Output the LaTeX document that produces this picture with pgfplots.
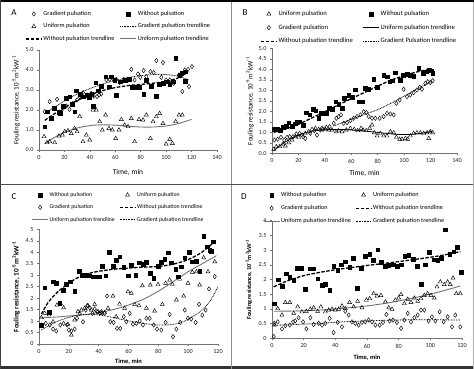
\documentclass[border=0pt]{standalone}
\usepackage{fontspec}
\setmainfont{Carlito}
\usepackage{pgfplots}
\pgfplotsset{compat=1.18}
\pgfplotsset{
  mlegend/.style={legend image code/.code={\draw[mark repeat=2,mark phase=2,##1] plot coordinates {(0pt,0pt) (8pt,0pt) (16pt,0pt)};}},
  llegend/.style={legend image code/.code={\draw[##1] (0pt,0pt) -- (16pt,0pt);}},
  sq/.style={only marks, mark=square*, mark size=1.8pt, black, mlegend},
  dm/.style={only marks, mark=diamond, mark size=2.2pt, mark options={line width=0.45pt}, black, mlegend},
  tr/.style={only marks, mark=triangle, mark size=2.3pt, mark options={line width=0.45pt}, black, mlegend},
  wtr/.style={black, line width=1.3pt, dash pattern=on 3.5pt off 1.5pt, smooth, no markers, llegend},
  utr/.style={black!55, line width=0.9pt, smooth, no markers, llegend},
  utrb/.style={black, line width=0.8pt, smooth, no markers, llegend},
  gtr/.style={black, line width=0.8pt, dash pattern=on 0.8pt off 0.8pt, smooth, no markers, llegend},
  panel/.style={
    scale only axis,
    axis x line*=bottom, axis y line*=left,
    axis line style={draw=black!55, line width=0.6pt, -},
    tick style={draw=black!55, line width=0.5pt},
    tick align=outside, major tick length=2pt,
    ticklabel style={font=\fontsize{6.2}{7}\selectfont, text=black!85},
    /pgf/number format/assume math mode=true,
    legend columns=2, legend cell align=left,
    legend style={draw=none, fill=none, inner sep=0pt,
      nodes={inner xsep=1pt, inner ysep=0pt, text height=4.2pt, text depth=1.3pt},
      anchor=north west},
  },
}
\newcommand{\ylab}{Fouling resistance, 10\textsuperscript{-5}m\textsuperscript{2}kW\textsuperscript{-1}}
\begin{document}
\begin{tikzpicture}
\useasboundingbox (0pt,0pt) rectangle (474pt,369pt);
\fill[white] (0pt,0pt) rectangle (474pt,369pt);

% ---------------- Panel A ----------------
\begin{axis}[panel, at={(39pt,219pt)}, anchor=south west, width=178pt, height=100pt,
  xmin=0, xmax=140, ymin=0, ymax=5, xtick={0,20,...,140}, ytick={0,1,...,5},
  yticklabel style={/pgf/number format/.cd, fixed, fixed zerofill, precision=1},
  xlabel={Time, min}, ylabel={\ylab},
  xlabel style={at={(axis description cs:0.5,-0.22)}, anchor=center, font=\fontsize{7.5}{8}\selectfont},
  ylabel style={at={(axis description cs:-0.129,0.5)}, anchor=center, font=\fontsize{7}{8}\selectfont},
  legend style={at={(axis description cs:0,1)}, xshift=-14pt, yshift=39pt,
    font=\fontsize{6.3}{7}\selectfont, row sep=7pt,
    /tikz/every even column/.append style={column sep=4.5pt}}]
\addplot[dm] coordinates {(4.5,1.92)(8.4,2.42)(14.2,2.53)(18.9,2.08)(21.5,2.2)(24,2.03)(26.7,2.33)(29.9,2.5)(32,2.67)(34.6,2.87)(37.8,2.75)(41,2.83)(43,2.7)(45.6,2.67)(47.2,2.75)(49,2.8)(53,3.5)(55.6,3.53)(58,3.58)(60.8,3.53)(63.5,3.37)(66.6,3.53)(70,3.5)(72.6,4.03)(75.2,3.5)(77.9,3.8)(79.7,3.63)(82.3,3.97)(84.4,3.67)(87.6,3.92)(90.2,3.87)(92.3,4.47)(96.2,3.63)(97.5,4.37)(100,3.5)(102.8,3.5)(105.9,3.33)(110,3.75)(112.7,2.92)(114.6,4)(117.2,4.03)(118,3.17)(120.3,4.17)};
\addlegendentry{Gradient pulsation}
\addplot[sq] coordinates {(4.5,1.17)(6.6,1.92)(9.7,1.58)(12,2.08)(15.7,1.9)(16.8,1.83)(18.9,2.2)(21.5,2.58)(24,2.67)(26,2.3)(28,1.92)(29.4,2.97)(32.5,2.8)(34.6,2.67)(37.8,2.75)(39.3,2.63)(41.4,2.8)(42.5,2.2)(44.6,3.37)(46.7,2.97)(49,3.2)(52.4,3.67)(55,3.17)(56.9,3.67)(59.5,3.5)(60.8,2.75)(64,3.42)(68,3.5)(70.8,3.53)(73.4,3.13)(76.5,3.13)(79.2,3.13)(82.3,2.8)(84.4,3.5)(88.4,3.2)(92.3,2.7)(94.4,3.3)(97.5,3.33)(100,3.42)(102.8,3.3)(105.4,3.42)(107.5,4.58)(110.6,3.75)(112.7,3.87)(115.4,3.92)(115,3.45)};
\addlegendentry{Without pulsation}
\addplot[tr] coordinates {(4,0.67)(6.3,0.37)(8.4,0.42)(12.3,0.37)(15.7,0.7)(18.4,0.75)(20.2,0.92)(22.8,0.97)(25.4,0.83)(28,1.08)(29.9,0.92)(32,1.67)(34.6,0.42)(37.2,0.75)(39.9,0.5)(42.5,2)(45.1,2)(47.7,1.42)(49.8,1)(52.4,1.75)(55,1.08)(57.7,1)(60.3,0.58)(62.9,1)(64.8,1.53)(67.4,1.25)(70,1.17)(72.6,1.58)(75.2,0.42)(78.7,1.53)(81.8,1.5)(84.4,1.75)(87.6,0.58)(89.7,1.42)(92.3,1.67)(94.9,1.83)(97.5,1.33)(100,0.3)(102.8,0.53)(104.9,0.33)(107.5,1.42)(110.1,1.75)(112.7,1.75)};
\addlegendentry{Uniform pulsation}
\addplot[gtr] coordinates {(4.5,1.82)(10,2.05)(20,2.45)(30,2.8)(40,3.07)(50,3.3)(60,3.48)(70,3.62)(80,3.72)(90,3.77)(100,3.77)(110,3.68)(118,3.5)};
\addlegendentry{Gradient pulsation trendline}
\addplot[wtr] coordinates {(4.5,1.48)(10,1.72)(20,2.12)(30,2.47)(40,2.75)(50,2.97)(60,3.12)(70,3.22)(80,3.28)(90,3.34)(100,3.43)(110,3.62)(118,3.92)};
\addlegendentry{Without pulsation trendline}
\addplot[utr] coordinates {(4.5,0.32)(10,0.55)(20,0.88)(30,1.1)(40,1.22)(50,1.26)(60,1.24)(70,1.19)(80,1.15)(90,1.15)(100,1.2)(110,1.33)(120,1.53)};
\addlegendentry{Uniform pulsation trendline}
\end{axis}

% ---------------- Panel B ----------------
\begin{axis}[panel, at={(272pt,215.7pt)}, anchor=south west, width=185pt, height=105pt,
  xmin=0, xmax=140, ymin=0, ymax=5, xtick={0,20,...,140}, ytick={0,0.5,...,5},
  yticklabel style={/pgf/number format/.cd, fixed, fixed zerofill, precision=1},
  xlabel={Time, min}, ylabel={\ylab},
  xlabel style={at={(axis description cs:0.5,-0.19)}, anchor=center, font=\fontsize{7.5}{8}\selectfont},
  ylabel style={at={(axis description cs:-0.119,0.5)}, anchor=center, font=\fontsize{7}{8}\selectfont},
  legend style={at={(axis description cs:0,1)}, xshift=-12pt, yshift=37.3pt,
    font=\fontsize{6.6}{7}\selectfont, row sep=8.2pt,
    /tikz/every even column/.append style={column sep=9pt}}]
\addplot[tr] coordinates {(1.3,0.19)(3.3,0.32)(5.8,0.32)(8.3,0.44)(10.1,0.35)(12.6,0.5)(15.1,0.63)(17.7,0.79)(20.2,0.76)(22.7,0.87)(25.2,0.95)(27.7,1.03)(30.3,1.14)(32.8,1.19)(35.3,1.14)(37.8,1.19)(40.4,1.14)(42.9,1.11)(45.4,1.11)(48.7,1.03)(50.5,1.08)(53,1.03)(56.3,1.11)(59.3,1.19)(62.3,1.14)(64.8,1.08)(67.4,1.19)(68.9,1.11)(71.4,1.08)(73.9,1.19)(75.7,1.35)(77.4,0.98)(79.5,0.83)(82,0.95)(84.5,0.83)(87,0.83)(89.6,1.03)(92.1,0.98)(94.1,0.76)(96.6,0.67)(98.4,0.67)(100.9,0.71)(102.7,0.67)(104.7,0.83)(107.2,0.95)(109.7,0.98)(112.3,0.98)(114.8,0.95)(117.3,0.98)(118.6,0.71)(119.8,1.03)(121.6,0.98)};
\addlegendentry{Uniform pulsation}
\addplot[sq] coordinates {(1.8,1.14)(3.8,1.14)(6.3,1.11)(8.3,1.24)(10.8,1.3)(12.6,1.46)(15.1,1.3)(17.7,1.4)(18.9,1.5)(20.9,1.5)(23.5,1.35)(26,1.94)(28.5,1.83)(31,2.1)(33,2.03)(35.3,1.67)(37.1,1.9)(39.1,1.94)(41.1,1.9)(43.1,2.14)(45.4,2.1)(48.2,2.46)(50.5,2.35)(53,2.14)(54.7,2.62)(58,2.78)(60.5,2.67)(63.1,3.02)(65.6,2.46)(68.1,2.46)(70.6,3.1)(73.2,3.05)(76.9,3.54)(79.5,3.14)(84.5,3.73)(87,3.65)(89,3.41)(90.8,3.46)(93.3,3.84)(97.1,3.49)(99.1,3.73)(102.2,3.78)(104.7,3.73)(107.2,3.68)(111,4.05)(114.3,3.81)(116.8,3.89)(118.6,3.97)(120.3,3.94)(121.6,3.81)};
\addlegendentry{Without pulsation}
\addplot[dm] coordinates {(1.8,0.63)(4.3,0.67)(6.8,0.76)(9.3,0.63)(11.4,0.76)(13.4,0.79)(15.9,0.79)(18.4,0.92)(20.9,0.95)(23.5,0.79)(25.2,0.71)(29,0.95)(32,1.08)(34,0.87)(36.6,1.11)(38.6,1.14)(41.1,1.24)(43.6,1.27)(46.7,1.43)(48.7,1.67)(50.5,1.75)(52.2,1.83)(54.2,1.43)(56.8,1.46)(59.3,1.56)(61.8,1.67)(64.3,1.75)(66.9,1.83)(69.4,1.98)(71.4,1.94)(73.2,1.75)(75.7,1.67)(78.2,1.67)(81.5,1.67)(84.5,1.75)(87,1.9)(89.6,1.87)(92.1,1.83)(94.1,2.38)(96.6,2.54)(99.6,3.05)(102.2,2.7)(104.7,2.78)(107.2,2.89)(109.7,3.02)(111.8,3.14)(113.5,3.05)(116,3.33)(117.8,3.41)(119.8,3.37)(121.6,3.46)};
\addlegendentry{Gradient pulsation}
\addplot[utrb] coordinates {(1.3,0.13)(8,0.45)(16,0.76)(24,0.95)(32,1.07)(44,1.13)(55,1.13)(65,1.09)(75,1.03)(85,0.96)(95,0.9)(105,0.9)(115,0.97)(121,1.05)};
\addlegendentry{Uniform pulsation trendline}
\addplot[wtr] coordinates {(1.3,1.0)(10,1.15)(20,1.38)(30,1.68)(40,1.98)(50,2.3)(60,2.6)(70,2.9)(80,3.2)(90,3.48)(100,3.7)(110,3.88)(121,4.02)};
\addlegendentry{Without pulsation trendline}
\addplot[gtr] coordinates {(46.7,1.3)(55,1.5)(62,1.67)(70,1.85)(80,2.08)(90,2.38)(100,2.72)(110,3.07)(121,3.42)};
\addlegendentry{Gradient Pulsation trendline}
\end{axis}

% ---------------- Panel C ----------------
\begin{axis}[panel, at={(39pt,25pt)}, anchor=south west, width=179pt, height=114.7pt,
  xmin=0, xmax=120, ymin=0, ymax=5, xtick={0,20,...,120}, ytick={0,0.5,...,5},
  xlabel={\textbf{Time, min}}, ylabel={\textbf{\ylab}},
  xlabel style={at={(axis description cs:0.5,-0.157)}, anchor=center, font=\fontsize{6.5}{7}\selectfont},
  ylabel style={at={(axis description cs:-0.128,0.5)}, anchor=center, font=\fontsize{7.1}{8}\selectfont},
  legend style={at={(axis description cs:0,1)}, xshift=-7.5pt, yshift=37.3pt,
    font=\fontsize{5.8}{7}\selectfont, row sep=6.9pt,
    /tikz/every even column/.append style={column sep=3pt}}]
\addplot[sq] coordinates {(1.6,0.83)(3.8,2.46)(6.7,1.38)(9.4,2.72)(11.6,2.65)(13.9,1.77)(16.1,2.35)(18.3,2.6)(21,2.72)(23.9,2.31)(26.8,3.18)(29,3.01)(31.7,3.01)(34,2.98)(36.2,2.94)(38.4,2.94)(40.2,2.94)(42.5,3.4)(44.7,2.97)(46.9,4)(49.6,3.4)(51.8,3.66)(54,3.81)(56.8,3.34)(59.7,2.97)(61.9,3.44)(64.8,3.01)(67,3.55)(69.7,3.49)(72,3.56)(74.6,3.08)(76.9,2.86)(79.8,3.4)(82,3.56)(84.2,3.7)(86.5,3.98)(88.7,3.55)(91.6,3.26)(93.2,2.94)(95.4,3.37)(97.7,3.76)(100.6,4)(102.8,3.59)(105.5,3.62)(107.7,3.18)(110.4,4.71)(112.6,4.24)(114.4,4.1)(115.5,4.05)(116.6,4.46)};
\addlegendentry{Without pulsation}
\addplot[tr] coordinates {(1.6,1.15)(3.8,1.34)(6.7,1.27)(9.4,0.97)(12.1,1.7)(14.3,1.77)(16.5,1.58)(19.4,0.86)(21.7,0.39)(23.9,1.05)(26.1,1.41)(28.4,1.48)(30.6,1.56)(32.8,1.67)(35.1,1.48)(37.3,1.73)(39.6,1.41)(41.8,1.34)(44,1.38)(46.3,1.56)(49.6,2.09)(51.8,1.19)(54,1.74)(57.4,1.56)(59.7,2.28)(61.9,2.21)(64.1,1.73)(67,1.67)(69.3,2.54)(72,1.56)(74.6,2.57)(77.5,1.44)(79.8,2.6)(82.7,1.73)(84.9,2.65)(87.6,2.79)(89.4,2.6)(92.1,1.92)(94.3,2.83)(97,2.09)(99.9,2.65)(102.8,3.13)(105.5,3.15)(107.7,2.57)(110.4,3.76)(113.3,3.15)(117.8,3.59)};
\addlegendentry{Uniform pulsation}
\addplot[dm] coordinates {(1.6,0.83)(4.5,0.9)(7.2,0.83)(9.4,0.65)(11.6,0.57)(14.3,0.83)(16.5,0.9)(18.8,0.83)(20.1,0.61)(21.7,0.57)(23.9,0.65)(25.5,1.12)(27.3,1.34)(29.5,0.97)(31.3,1.48)(32.4,1.67)(34,1.58)(35.8,1.34)(37.3,1.53)(38.9,1.41)(40.7,1.34)(41.8,1.41)(44,1.34)(45.6,2.09)(47.8,0.97)(50,0.94)(52.3,0.68)(54.5,0.68)(56.8,1.19)(58.5,0.97)(60.8,1.34)(63,0.86)(65.3,0.9)(67.5,1)(69.7,0.83)(72,1.12)(74.2,1.12)(76.9,0.83)(79.1,0.65)(82,0.61)(84.9,0.94)(87.6,1.29)(89.8,0.32)(92.1,0.65)(94.7,0.94)(97.7,1.48)(99.9,1.12)(102.1,1.09)(105,0.94)(107.3,1.73)(109.5,1.26)(111.7,1.48)(114,2.4)(117.8,2.94)};
\addlegendentry{Gradient pulsation}
\addplot[wtr] coordinates {(1.6,1.3)(6,1.8)(12.7,2.28)(20,2.65)(25,2.86)(32,3.05)(40,3.17)(50,3.26)(60,3.31)(70,3.35)(80,3.38)(90,3.48)(100,3.68)(108,3.95)(114,4.25)(119,4.55)};
\addlegendentry{Without pulsation trendline}
\addplot[utr] coordinates {(1.6,1.15)(10,1.17)(20,1.22)(30,1.28)(40,1.37)(50,1.5)(60,1.7)(70,1.95)(80,2.3)(90,2.72)(100,3.15)(110,3.52)(119,3.85)};
\addlegendentry{Uniform pulsation trendline}
\addplot[gtr] coordinates {(1.6,0.61)(10,0.92)(18,1.12)(26,1.25)(34,1.29)(42,1.25)(50,1.15)(60,1.01)(70,0.9)(79,0.83)(88,0.84)(96,0.95)(105,1.27)(110,1.52)(115,1.9)(120,2.5)};
\addlegendentry{Gradient pulsation trendline}
\end{axis}

% ---------------- Panel D ----------------
\begin{axis}[panel, at={(272pt,30.7pt)}, anchor=south west, width=190pt, height=117.6pt,
  xmin=0, xmax=120, ymin=0, ymax=4, xtick={0,20,...,120}, ytick={0,0.5,...,4},
  xlabel={\textbf{Time, min}}, ylabel={\textbf{\ylab}},
  xlabel style={at={(axis description cs:0.5,-0.162)}, anchor=center, font=\fontsize{6.5}{7}\selectfont},
  ylabel style={at={(axis description cs:-0.121,0.5)}, anchor=center, font=\fontsize{6.2}{7}\selectfont},
  legend style={at={(axis description cs:0,1)}, xshift=-9pt, yshift=28.7pt,
    font=\fontsize{6.2}{7}\selectfont, row sep=7.7pt,
    /tikz/every even column/.append style={column sep=3pt}}]
\addplot[sq] coordinates {(1.5,1.18)(3.8,1.99)(6.3,1.78)(9.1,2.2)(11.2,2.08)(13.7,1.97)(15.8,2.39)(18.3,2.39)(21.1,1.66)(23.8,2.37)(26.3,2.37)(28.8,2.03)(31.6,1.8)(33.7,1.84)(36.4,1.63)(38.9,2.46)(41.5,2.31)(43.6,2.5)(46.3,2.61)(49,2.42)(51.2,2.73)(53.7,1.71)(56.2,2.39)(58.9,2.79)(61.7,2.87)(63.8,2.65)(66.7,3.02)(68.8,2.59)(71.6,2.46)(73.7,2.48)(76.4,2.5)(78.9,2.46)(81.5,2.5)(83.8,2.79)(86.3,2.82)(89.1,2.7)(91.6,2.46)(94.1,1.83)(96.8,2.5)(99.4,2.93)(102.1,2.68)(104.6,2.65)(106.7,2.73)(109.5,3.7)(112.2,2.87)(114.7,2.95)(116.8,3.1)(119.4,2.25)};
\addlegendentry{Without pulsation}
\addplot[tr] coordinates {(1.5,0.45)(3.6,1.01)(6.3,0.79)(8.4,1.22)(11.2,1.22)(13.7,0.85)(16.2,1.07)(18.9,0.9)(21.7,0.92)(24.2,0.99)(26.3,1.04)(28.8,0.92)(30.9,1.07)(33.7,0.9)(35.8,0.96)(37.9,0.99)(40,0.96)(42.1,0.99)(44.2,1.1)(46.3,1.01)(49,1.22)(51.6,1.07)(54.1,1.26)(56.8,1.04)(59.6,1.3)(61.7,1.35)(64.2,1.52)(66.3,1.44)(68.8,1.46)(71.6,1.24)(73.7,1.04)(75.8,0.99)(77.9,1.3)(80,1.37)(81.5,1.49)(83.6,1.18)(85.7,1.33)(87.8,1.22)(89.9,1.37)(92,1.26)(94.1,1.35)(96.2,1.46)(98.3,1.52)(100.4,1.46)(102.5,1.37)(104.2,1.75)(106.3,1.92)(108.8,1.83)(110.9,1.92)(112.6,1.83)(114.3,2.05)(116.4,1.52)(118.9,1.52)};
\addlegendentry{Uniform pulsation}
\addplot[dm] coordinates {(1.1,0.06)(1.5,0.51)(3.6,0.56)(6.3,0.32)(8.4,0.43)(11.2,0.45)(13.3,0.56)(14.7,0.59)(16.8,0.7)(19.6,0.56)(21.7,0.32)(24.2,0.7)(26.3,0.47)(29.5,0.51)(31.6,0.45)(33.7,0.51)(36.4,0.68)(38.9,0.2)(41.5,0.54)(44.2,0.39)(46.3,0.92)(48.4,0.79)(50.5,0.56)(52.6,0.51)(54.7,0.45)(56.8,0.54)(58.9,0.56)(61,0.62)(63.2,0.56)(65.3,0.45)(68,0.45)(70.1,0.54)(72.2,0.81)(74.3,0.59)(76.4,0.62)(78.9,0.54)(81.5,0.34)(83.6,0.62)(85.7,0.85)(87.8,0.56)(89.9,0.7)(92,0.79)(94.1,0.96)(96.2,0.96)(98.9,0.59)(101,0.73)(103.2,0.59)(105.9,0.9)(108.4,0.56)(110.9,0.73)(113.7,0.39)(115.8,0.79)(118.9,0.39)};
\addlegendentry{Gradient pulsation}
\addplot[wtr] coordinates {(1.1,1.75)(10,1.96)(20,2.13)(30,2.24)(41,2.34)(52,2.42)(62,2.49)(73,2.56)(83,2.63)(94,2.71)(104,2.79)(112,2.87)(119,2.95)};
\addlegendentry{Without pulsation trendline}
\addplot[utr] coordinates {(1.1,0.92)(15,0.93)(30,0.96)(45,1.02)(60,1.1)(75,1.22)(90,1.38)(105,1.57)(119,1.78)};
\addlegendentry{Uniform pulsation trendline}
\addplot[gtr] coordinates {(1.1,0.44)(15,0.47)(30,0.51)(45,0.56)(60,0.59)(75,0.62)(90,0.63)(105,0.63)(119,0.62)};
\addlegendentry{Gradient pulsation trendline}
\end{axis}

% panel letters
\node[font=\fontsize{9}{9}\selectfont] at (14pt,356pt) {A};
\node[font=\fontsize{9}{9}\selectfont] at (245pt,356pt) {B};
\node[font=\fontsize{9}{9}\selectfont] at (14pt,172pt) {C};
\node[font=\fontsize{9}{9}\selectfont] at (244pt,172pt) {D};

% frame
\fill[black] (0pt,366.5pt) rectangle (474pt,369pt);
\fill[black!80] (0pt,0pt) rectangle (474pt,2.5pt);
\draw[black!75, line width=1.2pt] (0.6pt,0pt) -- (0.6pt,369pt);
\draw[black!45, line width=1pt] (231pt,0pt) -- (231pt,367pt);
\draw[black!70, line width=1pt] (0pt,184pt) -- (474pt,184pt);
\draw[black!30, line width=0.6pt] (473.5pt,0pt) -- (473.5pt,367pt);
\end{tikzpicture}
\end{document}
